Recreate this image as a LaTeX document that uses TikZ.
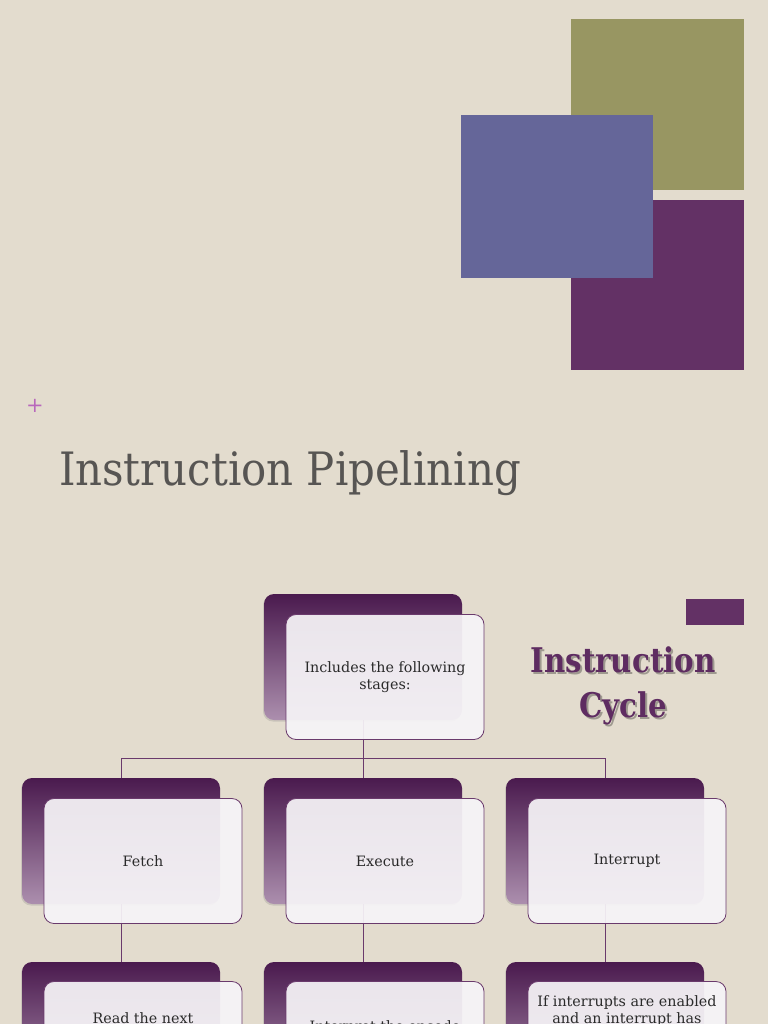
\documentclass[tikz,border=0pt]{standalone}
\usepackage{fontspec}
\setmainfont{DejaVu Serif}
\usetikzlibrary{shadows}
\definecolor{bg}{HTML}{E3DCCE}
\definecolor{olive}{HTML}{989662}
\definecolor{plum}{HTML}{633165}
\definecolor{slate}{HTML}{656699}
\definecolor{pdark}{HTML}{4A1A4E}
\definecolor{plight}{HTML}{AC8FAE}
\definecolor{pline}{HTML}{6A3A6C}
\definecolor{fboxc}{HTML}{F6F4F7}
\definecolor{textc}{HTML}{2A2A2A}
\definecolor{titlec}{HTML}{575553}
\definecolor{plusc}{HTML}{B868BC}
\definecolor{cycc}{HTML}{5E2C61}
\begin{document}
\begin{tikzpicture}[x=1pt,y=-1pt,
  backbox/.style={rectangle, rounded corners=10pt, minimum width=198pt, minimum height=126pt, top color=pdark, bottom color=plight, inner sep=0pt, drop shadow={opacity=0.25, shadow xshift=-1pt, shadow yshift=-1.5pt}},
  frontbox/.style={rectangle, rounded corners=10pt, minimum width=198pt, minimum height=125pt, draw=pline, line width=0.8pt, fill=fboxc, fill opacity=0.93, text opacity=1, align=center, font=\fontsize{14.3}{16.5}\selectfont, text=textc},
  conn/.style={draw=pline, line width=0.9pt},
  deco/.style={inner sep=0pt, outer sep=0pt}]
\useasboundingbox (0,0) rectangle (768,1024);
\clip (0,0) rectangle (768,1024);
\fill[bg] (0,0) rectangle (768,1024);
% decorative squares
\fill[olive] (571,19) rectangle (744,190);
\fill[plum] (571,200) rectangle (744,370);
\fill[slate] (461,115) rectangle (653,278);
\fill[plum] (686,599) rectangle (744,625);
% plus and title
\node[deco, text=plusc, font=\fontsize{21}{21}\selectfont] (plus) at (35,406) {+};
\node[deco, anchor=base west, text=titlec, font=\fontsize{46}{46}\selectfont] (title) at (59,485) {\scalebox{0.91}[1]{Instruction Pipelining}};
% Instruction Cycle heading with shadow
\node[deco, align=center, text=black, opacity=0.3, font=\bfseries\fontsize{34}{45}\selectfont] (cycs) at (625,688) {\scalebox{0.86}[1]{Instruction}\\\scalebox{0.86}[1]{Cycle}};
\node[deco, align=center, text=cycc, font=\bfseries\fontsize{34}{45}\selectfont] (cyc) at (623,686) {\scalebox{0.86}[1]{Instruction}\\\scalebox{0.86}[1]{Cycle}};
% back boxes
\node[backbox] (tb) at (363,657) {};
\node[backbox] (b1) at (121,841) {};
\node[backbox] (b2) at (363,841) {};
\node[backbox] (b3) at (605,841) {};
\node[backbox] (c1) at (121,1025) {};
\node[backbox] (c2) at (363,1025) {};
\node[backbox] (c3) at (605,1025) {};
% connectors
\coordinate (j1) at (363,758);
\draw[conn] (tb.south) -- (j1) -| (b1.north);
\draw[conn] (j1) -- (b2.north);
\draw[conn] (j1) -| (b3.north);
\draw[conn] (b1.south) -- (c1.north);
\draw[conn] (b2.south) -- (c2.north);
\draw[conn] (b3.south) -- (c3.north);
% front boxes
\node[frontbox] (tf) at (385,677) {Includes the following\\stages:};
\node[frontbox] (f1) at (143,861) {Fetch};
\node[frontbox] (f2) at (385,861) {Execute};
\node[frontbox] (f3) at (627,861) {Interrupt};
\node[frontbox] (g1) at (143,1044) {Read the next\\instruction from\\memory into the\\processor};
\node[frontbox] (g2) at (385,1044) {Interpret the opcode\\and perform the\\indicated operation};
\node[frontbox] (g3) at (627,1044) {If interrupts are enabled\\and an interrupt has\\occurred, save the\\current process state\\and service the\\interrupt};
\end{tikzpicture}
\end{document}
